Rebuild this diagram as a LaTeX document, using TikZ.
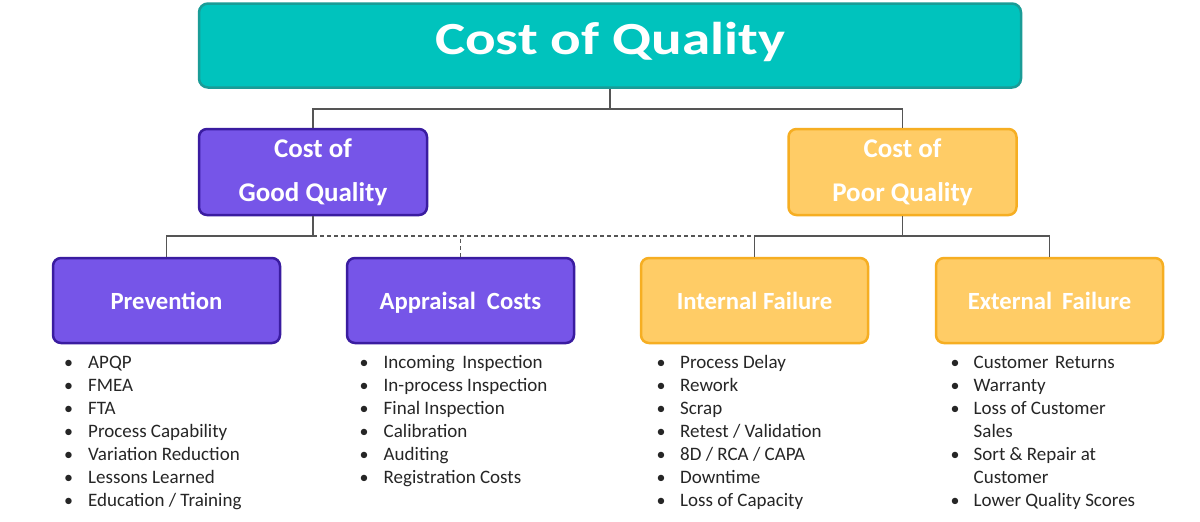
\documentclass[tikz,border=0pt]{standalone}
\usepackage{fontspec}
\setmainfont{Carlito}
\usetikzlibrary{calc}
\definecolor{tealfill}{HTML}{00C3BD}
\definecolor{tealline}{HTML}{1A9C97}
\definecolor{purpfill}{HTML}{7655E8}
\definecolor{purpline}{HTML}{3A1CA0}
\definecolor{yelfill}{HTML}{FFCC66}
\definecolor{yelline}{HTML}{F6AE22}
\definecolor{conn}{HTML}{555555}
\definecolor{itemtext}{HTML}{262626}
\tikzset{
  topbox/.style={draw=tealline, fill=tealfill, line width=2.5pt, rounded corners=9pt,
    minimum width=822pt, minimum height=84pt, text=white, inner sep=0pt,
    text height=18pt, text depth=0pt},
  goodbox/.style={draw=purpline, fill=purpfill, line width=2.5pt, rounded corners=8pt,
    minimum width=228pt, minimum height=86pt, text=white, inner sep=0pt, align=center,
    font=\fontsize{27}{44}\selectfont\bfseries},
  poorbox/.style={goodbox, draw=yelline, fill=yelfill},
  gbox/.style={draw=purpline, fill=purpfill, line width=2.5pt, rounded corners=8pt,
    minimum width=227pt, minimum height=85pt, text=white, inner sep=0pt,
    font=\fontsize{24.7}{28}\selectfont\bfseries, text height=17pt, text depth=0pt},
  ybox/.style={gbox, draw=yelline, fill=yelfill},
  conline/.style={draw=conn, line width=1.2pt},
  dashline/.style={draw=conn, line width=1.2pt, dash pattern=on 4pt off 3pt},
  itm/.style={inner sep=0pt, text=itemtext, font=\fontsize{19}{23}\selectfont, anchor=base west},
  bul/.style={inner sep=0pt, text=itemtext, font=\fontsize{18}{23}\selectfont, anchor=base}
}
\begin{document}
\begin{tikzpicture}[x=1pt, y=-1pt]
\useasboundingbox[fill=white] (0,0) rectangle (1200,522);

% boxes
\node[topbox] (top) at (610,45.5) {\scalebox{1.24}[1]{\fontsize{46}{50}\selectfont\bfseries Cost of Quality}};
\node[goodbox] (good) at (313,172) {Cost of\\Good Quality};
\node[poorbox] (poor) at (902.5,172) {Cost of\\Poor Quality};
\node[gbox] (prev) at (166.5,300.5) {Prevention};
\node[gbox] (appr) at (460.5,300.5) {Appraisal\hspace{0.45em}Costs};
\node[ybox] (intf) at (754.5,300.5) {Internal Failure};
\node[ybox] (extf) at (1049.5,300.5) {External\hspace{0.4em}Failure};

% connectors
\coordinate (j1) at (610,109);
\coordinate (j2) at (313,236);
\coordinate (j3) at (902.5,236);
\draw[conline] (top.south) -- (j1);
\draw[conline] (good.north) |- (j1) -| (poor.north);
\draw[conline] (good.south) -- (j2) -| (prev.north);
\draw[dashline] (j2) -- (intf.north |- j2);
\draw[dashline] (appr.north) -- (appr.north |- j2);
\draw[conline] (poor.south) -- (j3);
\draw[conline] (intf.north) |- (j3) -| (extf.north);

% lists
\foreach \txt [count=\i] in {APQP, FMEA, FTA, Process Capability, Variation Reduction, Lessons Learned, Education / Training} {
  \node[bul] (pb\i) at (68.5,{368.5+23*(\i-1)}) {•};
  \node[itm] (pt\i) at (88,{368.5+23*(\i-1)}) {\txt};
}
\foreach \txt [count=\i] in {Incoming\hspace{0.4em}Inspection, In-process Inspection, Final Inspection, Calibration, Auditing, Registration Costs} {
  \node[bul] (ab\i) at (364,{368.5+23*(\i-1)}) {•};
  \node[itm] (at\i) at (383.5,{368.5+23*(\i-1)}) {\txt};
}
\foreach \txt [count=\i] in {Process Delay, Rework, Scrap, Retest / Validation, 8D / RCA / CAPA, Downtime, Loss of Capacity} {
  \node[bul] (ib\i) at (661,{368.5+23*(\i-1)}) {•};
  \node[itm] (it\i) at (680,{368.5+23*(\i-1)}) {\txt};
}
\foreach \b/\txt [count=\i] in {1/Customer\hspace{0.35em}Returns, 1/Warranty, 1/Loss of Customer, 0/Sales, 1/Sort \& Repair at, 0/Customer, 1/Lower Quality Scores} {
  \ifnum\b=1 \node[bul] (eb\i) at (955,{368.5+23*(\i-1)}) {•}; \fi
  \node[itm] (et\i) at (973.5,{368.5+23*(\i-1)}) {\txt};
}
\end{tikzpicture}
\end{document}
